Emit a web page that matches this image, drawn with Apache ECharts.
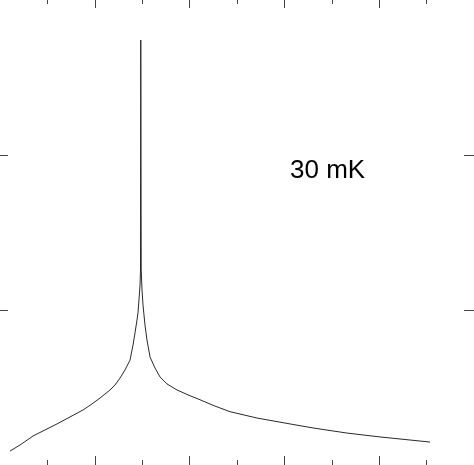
<!DOCTYPE html>
<html>
<head>
<meta charset="utf-8">
<script src="https://cdn.jsdelivr.net/npm/echarts@6/dist/echarts.min.js"></script>
<style>
html,body{margin:0;padding:0;background:#fff;}
#chart{width:474px;height:465px;}
</style>
</head>
<body>
<div id="chart"></div>
<script>
// data (x in axis units 0..10, y in axis units 0..3)
var xValues = [0.211, 0.422, 0.696, 0.949, 1.203, 1.477, 1.751, 1.941, 2.110, 2.321, 2.426, 2.532, 2.637, 2.743, 2.806, 2.848, 2.890, 2.911, 2.932, 2.954, 2.964, 2.970, 2.979, 2.996, 3.017, 3.059, 3.101, 3.165, 3.270, 3.376, 3.523, 3.734, 4.008, 4.219, 4.536, 4.852, 5.422, 6.118, 6.603, 7.321, 8.017, 9.072];
var yValues = [0.090, 0.129, 0.187, 0.226, 0.265, 0.310, 0.355, 0.394, 0.432, 0.484, 0.516, 0.561, 0.613, 0.677, 0.774, 0.852, 0.935, 0.981, 1.065, 1.161, 1.258, 2.742, 1.258, 1.129, 1.032, 0.903, 0.806, 0.697, 0.626, 0.568, 0.523, 0.484, 0.447, 0.421, 0.380, 0.344, 0.303, 0.265, 0.239, 0.206, 0.181, 0.148];
var xMajorTicks = [2, 4, 6, 8];
var yTicks = [1, 2];
var annotation = '30 mK';

var points = xValues.map(function (x, i) { return [x, yValues[i]]; });

function xAx(pos, len, minorLen) {
  return {
    type: 'value', position: pos, min: 0, max: 10, interval: 2,
    axisLine: {show: false, onZero: false},
    axisTick: {show: true, inside: true, length: len, customValues: xMajorTicks, lineStyle: {color: '#444', width: 1}},
    minorTick: {show: true, splitNumber: 2, length: minorLen, lineStyle: {color: '#444', width: 1}},
    axisLabel: {show: false},
    splitLine: {show: false},
    minorSplitLine: {show: false}
  };
}
function yAx(pos, len) {
  return {
    type: 'value', position: pos, min: 0, max: 3, interval: 1,
    axisLine: {show: false, onZero: false},
    axisTick: {show: true, inside: true, length: len, customValues: yTicks, lineStyle: {color: '#444', width: 1}},
    axisLabel: {show: false},
    splitLine: {show: false}
  };
}

var chart = echarts.init(document.getElementById('chart'), null, {renderer: 'canvas'});
chart.setOption({
  animation: false,
  backgroundColor: '#fff',
  grid: {left: 0, right: 0, top: 0, bottom: 0, containLabel: false},
  xAxis: [
    xAx('bottom', 9, 5),
    xAx('top', 8, 4)
  ],
  yAxis: [
    yAx('left', 8),
    yAx('right', 10)
  ],
  series: [{
    type: 'line',
    xAxisIndex: 0, yAxisIndex: 0,
    data: points,
    showSymbol: false,
    symbol: 'none',
    lineStyle: {color: '#2a2a2a', width: 1}
  }],
  graphic: [{
    type: 'text',
    style: {
      x: 290, y: 171,
      text: annotation,
      font: '26px "Liberation Sans", Arial, sans-serif',
      fill: '#000',
      verticalAlign: 'middle',
      align: 'left'
    }
  }]
});
</script>
</body>
</html>
